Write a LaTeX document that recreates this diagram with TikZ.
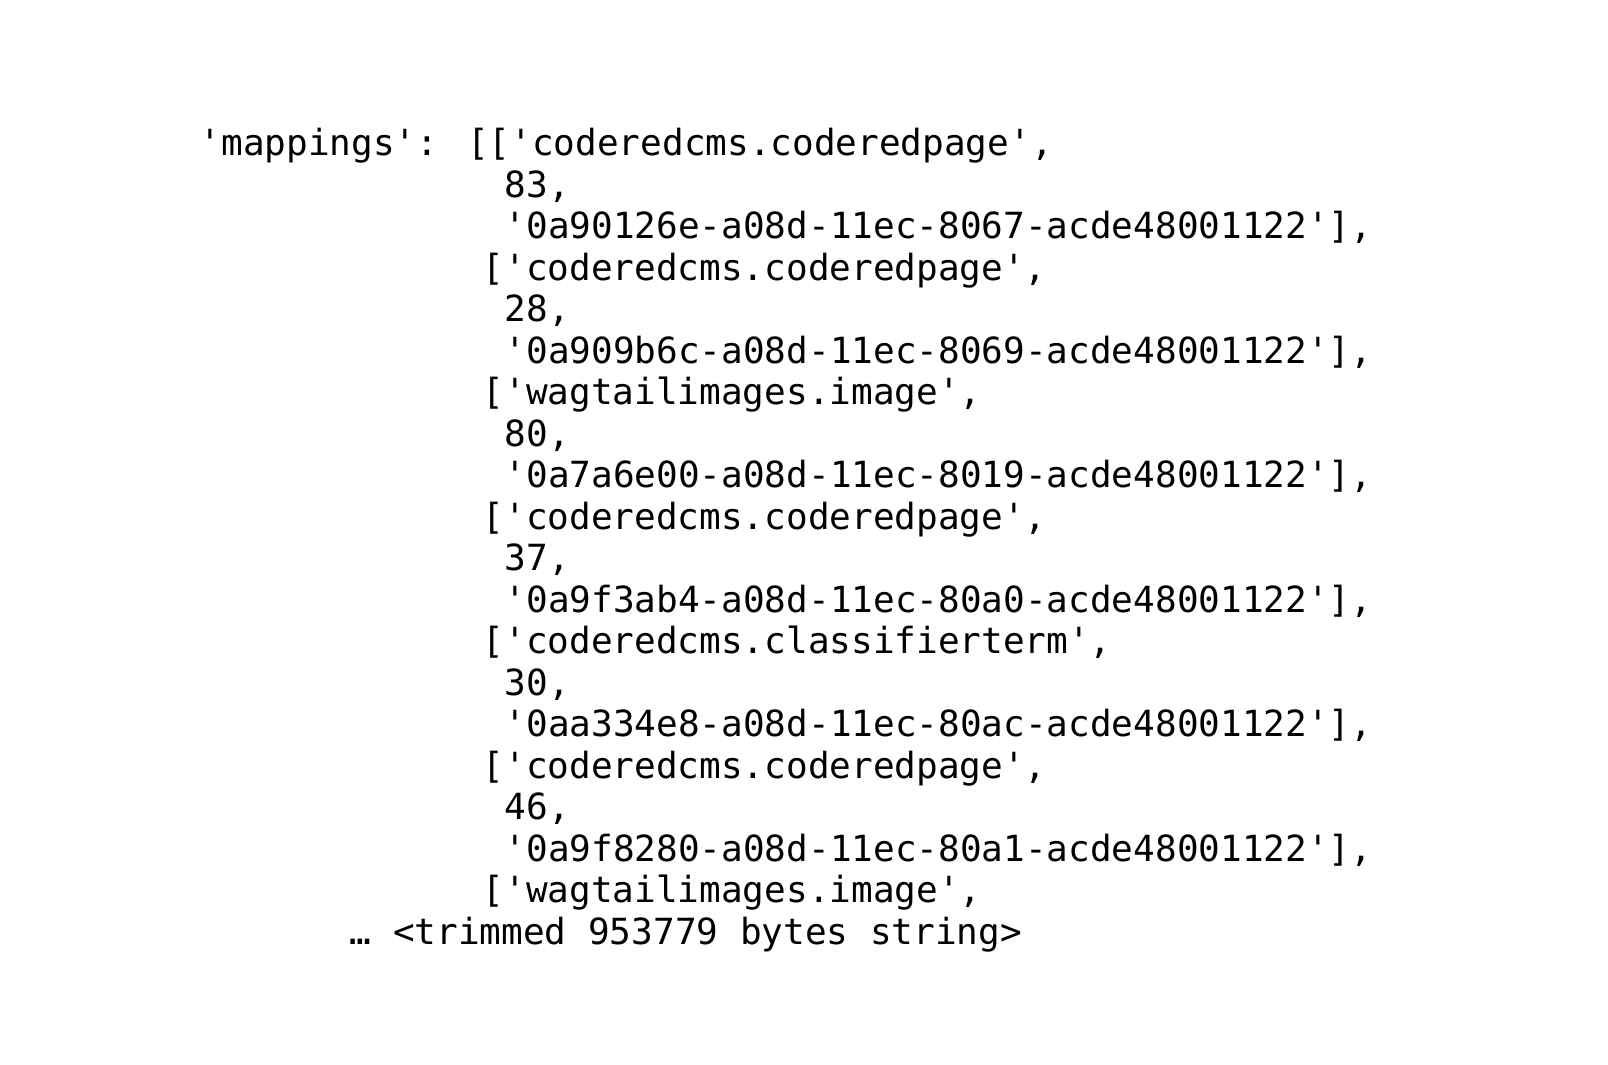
\documentclass[tikz,border=0pt]{standalone}
\usepackage{fontspec}
\newfontfamily\codefont{DejaVu Sans Mono}
\begin{document}
\begin{tikzpicture}[x=1cm,y=1cm,
  codeline/.style={anchor=base west,inner sep=0pt,font=\codefont\fontsize{10.25pt}{12pt}\selectfont}]
\useasboundingbox (0,0) rectangle (16.08,10.64);
\def\Y#1{10.64-1.556-0.415*#1}
\node[codeline] (l0) at (1.99,{\Y{0}}) {'mappings': [['coderedcms.coderedpage',};
\node[codeline] (l1) at (5.04,{\Y{1}}) {83,};
\node[codeline] (l2) at (5.04,{\Y{2}}) {'0a90126e-a08d-11ec-8067-acde48001122'],};
\node[codeline] (l3) at (4.82,{\Y{3}}) {['coderedcms.coderedpage',};
\node[codeline] (l4) at (5.04,{\Y{4}}) {28,};
\node[codeline] (l5) at (5.04,{\Y{5}}) {'0a909b6c-a08d-11ec-8069-acde48001122'],};
\node[codeline] (l6) at (4.82,{\Y{6}}) {['wagtailimages.image',};
\node[codeline] (l7) at (5.04,{\Y{7}}) {80,};
\node[codeline] (l8) at (5.04,{\Y{8}}) {'0a7a6e00-a08d-11ec-8019-acde48001122'],};
\node[codeline] (l9) at (4.82,{\Y{9}}) {['coderedcms.coderedpage',};
\node[codeline] (l10) at (5.04,{\Y{10}}) {37,};
\node[codeline] (l11) at (5.04,{\Y{11}}) {'0a9f3ab4-a08d-11ec-80a0-acde48001122'],};
\node[codeline] (l12) at (4.82,{\Y{12}}) {['coderedcms.classifierterm',};
\node[codeline] (l13) at (5.04,{\Y{13}}) {30,};
\node[codeline] (l14) at (5.04,{\Y{14}}) {'0aa334e8-a08d-11ec-80ac-acde48001122'],};
\node[codeline] (l15) at (4.82,{\Y{15}}) {['coderedcms.coderedpage',};
\node[codeline] (l16) at (5.04,{\Y{16}}) {46,};
\node[codeline] (l17) at (5.04,{\Y{17}}) {'0a9f8280-a08d-11ec-80a1-acde48001122'],};
\node[codeline] (l18) at (4.82,{\Y{18}}) {['wagtailimages.image',};
\node[codeline] (l19) at (3.49,{\Y{19}}) {… <trimmed 953779 bytes string>};
\end{tikzpicture}
\end{document}
